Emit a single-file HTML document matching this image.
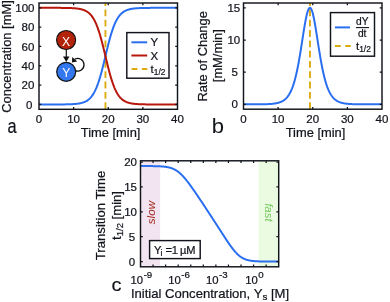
<!DOCTYPE html>
<html><head><meta charset="utf-8"><style>
html,body{margin:0;padding:0;background:#fff;}
body{width:390px;height:302px;overflow:hidden;}
svg{display:block;will-change:transform;}
svg text{font-family:"Liberation Sans", sans-serif;fill:#11141b;stroke:#11141b;stroke-width:0.22px;}
</style></head><body>
<svg width="390" height="302" viewBox="0 0 390 302">
<clipPath id="ca"><rect x="39.0" y="3.0" width="138.5" height="106.3"/></clipPath>
<g clip-path="url(#ca)">
<path d="M105.44 -0.8 V109.3" stroke="#dcab0e" stroke-width="1.9" stroke-dasharray="6.8 3.5"/>
<path d="M39.00 104.47 L39.35 104.47 L39.69 104.47 L40.04 104.47 L40.38 104.47 L40.73 104.47 L41.08 104.47 L41.42 104.47 L41.77 104.47 L42.12 104.47 L42.46 104.47 L42.81 104.47 L43.16 104.47 L43.50 104.47 L43.85 104.47 L44.19 104.47 L44.54 104.47 L44.89 104.47 L45.23 104.47 L45.58 104.47 L45.92 104.46 L46.27 104.46 L46.62 104.46 L46.96 104.46 L47.31 104.46 L47.66 104.46 L48.00 104.46 L48.35 104.46 L48.70 104.46 L49.04 104.46 L49.39 104.46 L49.73 104.46 L50.08 104.46 L50.43 104.46 L50.77 104.46 L51.12 104.46 L51.47 104.46 L51.81 104.46 L52.16 104.46 L52.50 104.46 L52.85 104.46 L53.20 104.46 L53.54 104.46 L53.89 104.46 L54.23 104.45 L54.58 104.45 L54.93 104.45 L55.27 104.45 L55.62 104.45 L55.97 104.45 L56.31 104.45 L56.66 104.45 L57.01 104.45 L57.35 104.44 L57.70 104.44 L58.04 104.44 L58.39 104.44 L58.74 104.44 L59.08 104.44 L59.43 104.43 L59.77 104.43 L60.12 104.43 L60.47 104.43 L60.81 104.43 L61.16 104.42 L61.51 104.42 L61.85 104.42 L62.20 104.41 L62.55 104.41 L62.89 104.41 L63.24 104.40 L63.58 104.40 L63.93 104.40 L64.28 104.39 L64.62 104.39 L64.97 104.38 L65.31 104.38 L65.66 104.37 L66.01 104.36 L66.35 104.36 L66.70 104.35 L67.05 104.34 L67.39 104.34 L67.74 104.33 L68.09 104.32 L68.43 104.31 L68.78 104.30 L69.12 104.29 L69.47 104.28 L69.82 104.27 L70.16 104.25 L70.51 104.24 L70.86 104.23 L71.20 104.21 L71.55 104.20 L71.89 104.18 L72.24 104.16 L72.59 104.14 L72.93 104.12 L73.28 104.10 L73.62 104.08 L73.97 104.06 L74.32 104.03 L74.66 104.00 L75.01 103.98 L75.36 103.94 L75.70 103.91 L76.05 103.88 L76.40 103.84 L76.74 103.80 L77.09 103.76 L77.43 103.72 L77.78 103.67 L78.13 103.63 L78.47 103.57 L78.82 103.52 L79.17 103.46 L79.51 103.40 L79.86 103.33 L80.20 103.26 L80.55 103.19 L80.90 103.11 L81.24 103.03 L81.59 102.94 L81.94 102.85 L82.28 102.75 L82.63 102.65 L82.97 102.54 L83.32 102.42 L83.67 102.30 L84.01 102.17 L84.36 102.03 L84.70 101.88 L85.05 101.72 L85.40 101.56 L85.74 101.39 L86.09 101.20 L86.44 101.01 L86.78 100.80 L87.13 100.58 L87.47 100.35 L87.82 100.11 L88.17 99.85 L88.51 99.58 L88.86 99.30 L89.21 99.00 L89.55 98.68 L89.90 98.34 L90.25 97.99 L90.59 97.62 L90.94 97.22 L91.28 96.81 L91.63 96.38 L91.98 95.92 L92.32 95.44 L92.67 94.94 L93.02 94.41 L93.36 93.86 L93.71 93.28 L94.05 92.67 L94.40 92.03 L94.75 91.37 L95.09 90.68 L95.44 89.95 L95.78 89.19 L96.13 88.41 L96.48 87.59 L96.82 86.74 L97.17 85.85 L97.52 84.93 L97.86 83.98 L98.21 82.99 L98.55 81.98 L98.90 80.92 L99.25 79.84 L99.59 78.72 L99.94 77.57 L100.29 76.39 L100.63 75.18 L100.98 73.94 L101.33 72.68 L101.67 71.38 L102.02 70.07 L102.36 68.73 L102.71 67.36 L103.06 65.98 L103.40 64.59 L103.75 63.17 L104.09 61.75 L104.44 60.31 L104.79 58.87 L105.13 57.43 L105.48 55.98 L105.83 54.53 L106.17 53.08 L106.52 51.64 L106.87 50.21 L107.21 48.79 L107.56 47.38 L107.90 45.98 L108.25 44.61 L108.60 43.25 L108.94 41.91 L109.29 40.60 L109.64 39.32 L109.98 38.06 L110.33 36.82 L110.67 35.62 L111.02 34.45 L111.37 33.31 L111.71 32.20 L112.06 31.12 L112.41 30.08 L112.75 29.07 L113.10 28.09 L113.44 27.14 L113.79 26.23 L114.14 25.36 L114.48 24.51 L114.83 23.70 L115.17 22.92 L115.52 22.17 L115.87 21.45 L116.21 20.77 L116.56 20.11 L116.91 19.48 L117.25 18.88 L117.60 18.31 L117.95 17.76 L118.29 17.24 L118.64 16.74 L118.98 16.27 L119.33 15.82 L119.68 15.39 L120.02 14.98 L120.37 14.59 L120.72 14.22 L121.06 13.88 L121.41 13.54 L121.75 13.23 L122.10 12.93 L122.45 12.65 L122.79 12.38 L123.14 12.13 L123.48 11.89 L123.83 11.66 L124.18 11.45 L124.52 11.24 L124.87 11.05 L125.22 10.87 L125.56 10.70 L125.91 10.54 L126.26 10.38 L126.60 10.24 L126.95 10.10 L127.29 9.97 L127.64 9.85 L127.99 9.73 L128.33 9.63 L128.68 9.52 L129.03 9.43 L129.37 9.33 L129.72 9.25 L130.06 9.17 L130.41 9.09 L130.76 9.02 L131.10 8.95 L131.45 8.89 L131.80 8.82 L132.14 8.77 L132.49 8.71 L132.83 8.66 L133.18 8.61 L133.53 8.57 L133.87 8.53 L134.22 8.49 L134.56 8.45 L134.91 8.41 L135.26 8.38 L135.60 8.35 L135.95 8.32 L136.30 8.29 L136.64 8.26 L136.99 8.24 L137.34 8.21 L137.68 8.19 L138.03 8.17 L138.37 8.15 L138.72 8.13 L139.07 8.11 L139.41 8.10 L139.76 8.08 L140.11 8.07 L140.45 8.05 L140.80 8.04 L141.14 8.03 L141.49 8.02 L141.84 8.01 L142.18 8.00 L142.53 7.99 L142.88 7.98 L143.22 7.97 L143.57 7.96 L143.91 7.95 L144.26 7.95 L144.61 7.94 L144.95 7.93 L145.30 7.93 L145.65 7.92 L145.99 7.92 L146.34 7.91 L146.68 7.91 L147.03 7.90 L147.38 7.90 L147.72 7.89 L148.07 7.89 L148.42 7.89 L148.76 7.88 L149.11 7.88 L149.45 7.88 L149.80 7.88 L150.15 7.87 L150.49 7.87 L150.84 7.87 L151.19 7.87 L151.53 7.86 L151.88 7.86 L152.22 7.86 L152.57 7.86 L152.92 7.86 L153.26 7.86 L153.61 7.85 L153.96 7.85 L154.30 7.85 L154.65 7.85 L154.99 7.85 L155.34 7.85 L155.69 7.85 L156.03 7.85 L156.38 7.85 L156.72 7.84 L157.07 7.84 L157.42 7.84 L157.76 7.84 L158.11 7.84 L158.46 7.84 L158.80 7.84 L159.15 7.84 L159.50 7.84 L159.84 7.84 L160.19 7.84 L160.53 7.84 L160.88 7.84 L161.23 7.84 L161.57 7.84 L161.92 7.84 L162.27 7.84 L162.61 7.84 L162.96 7.84 L163.30 7.84 L163.65 7.83 L164.00 7.83 L164.34 7.83 L164.69 7.83 L165.03 7.83 L165.38 7.83 L165.73 7.83 L166.07 7.83 L166.42 7.83 L166.77 7.83 L167.11 7.83 L167.46 7.83 L167.81 7.83 L168.15 7.83 L168.50 7.83 L168.84 7.83 L169.19 7.83 L169.54 7.83 L169.88 7.83 L170.23 7.83 L170.57 7.83 L170.92 7.83 L171.27 7.83 L171.61 7.83 L171.96 7.83 L172.31 7.83 L172.65 7.83 L173.00 7.83 L173.34 7.83 L173.69 7.83 L174.04 7.83 L174.38 7.83 L174.73 7.83 L175.08 7.83 L175.42 7.83 L175.77 7.83 L176.12 7.83 L176.46 7.83 L176.81 7.83 L177.15 7.83 L177.50 7.83" fill="none" stroke="#2a6ff0" stroke-width="2.0" stroke-linejoin="round" stroke-linecap="butt" />
<path d="M39.00 7.83 L39.35 7.83 L39.69 7.83 L40.04 7.83 L40.38 7.83 L40.73 7.83 L41.08 7.83 L41.42 7.83 L41.77 7.83 L42.12 7.83 L42.46 7.83 L42.81 7.83 L43.16 7.83 L43.50 7.83 L43.85 7.83 L44.19 7.83 L44.54 7.83 L44.89 7.83 L45.23 7.83 L45.58 7.83 L45.92 7.83 L46.27 7.83 L46.62 7.83 L46.96 7.83 L47.31 7.83 L47.66 7.84 L48.00 7.84 L48.35 7.84 L48.70 7.84 L49.04 7.84 L49.39 7.84 L49.73 7.84 L50.08 7.84 L50.43 7.84 L50.77 7.84 L51.12 7.84 L51.47 7.84 L51.81 7.84 L52.16 7.84 L52.50 7.84 L52.85 7.84 L53.20 7.84 L53.54 7.84 L53.89 7.84 L54.23 7.84 L54.58 7.85 L54.93 7.85 L55.27 7.85 L55.62 7.85 L55.97 7.85 L56.31 7.85 L56.66 7.85 L57.01 7.85 L57.35 7.85 L57.70 7.86 L58.04 7.86 L58.39 7.86 L58.74 7.86 L59.08 7.86 L59.43 7.86 L59.77 7.87 L60.12 7.87 L60.47 7.87 L60.81 7.87 L61.16 7.88 L61.51 7.88 L61.85 7.88 L62.20 7.88 L62.55 7.89 L62.89 7.89 L63.24 7.90 L63.58 7.90 L63.93 7.90 L64.28 7.91 L64.62 7.91 L64.97 7.92 L65.31 7.92 L65.66 7.93 L66.01 7.93 L66.35 7.94 L66.70 7.95 L67.05 7.96 L67.39 7.96 L67.74 7.97 L68.09 7.98 L68.43 7.99 L68.78 8.00 L69.12 8.01 L69.47 8.02 L69.82 8.03 L70.16 8.04 L70.51 8.06 L70.86 8.07 L71.20 8.09 L71.55 8.10 L71.89 8.12 L72.24 8.14 L72.59 8.16 L72.93 8.18 L73.28 8.20 L73.62 8.22 L73.97 8.24 L74.32 8.27 L74.66 8.30 L75.01 8.32 L75.36 8.35 L75.70 8.39 L76.05 8.42 L76.40 8.46 L76.74 8.50 L77.09 8.54 L77.43 8.58 L77.78 8.63 L78.13 8.67 L78.47 8.73 L78.82 8.78 L79.17 8.84 L79.51 8.90 L79.86 8.97 L80.20 9.03 L80.55 9.11 L80.90 9.19 L81.24 9.27 L81.59 9.36 L81.94 9.45 L82.28 9.55 L82.63 9.65 L82.97 9.76 L83.32 9.88 L83.67 10.00 L84.01 10.13 L84.36 10.27 L84.70 10.42 L85.05 10.57 L85.40 10.74 L85.74 10.91 L86.09 11.10 L86.44 11.29 L86.78 11.50 L87.13 11.72 L87.47 11.95 L87.82 12.19 L88.17 12.45 L88.51 12.72 L88.86 13.00 L89.21 13.30 L89.55 13.62 L89.90 13.96 L90.25 14.31 L90.59 14.68 L90.94 15.08 L91.28 15.49 L91.63 15.92 L91.98 16.38 L92.32 16.86 L92.67 17.36 L93.02 17.89 L93.36 18.44 L93.71 19.02 L94.05 19.63 L94.40 20.26 L94.75 20.93 L95.09 21.62 L95.44 22.35 L95.78 23.10 L96.13 23.89 L96.48 24.71 L96.82 25.56 L97.17 26.45 L97.52 27.37 L97.86 28.32 L98.21 29.30 L98.55 30.32 L98.90 31.38 L99.25 32.46 L99.59 33.58 L99.94 34.73 L100.29 35.91 L100.63 37.12 L100.98 38.36 L101.33 39.62 L101.67 40.92 L102.02 42.23 L102.36 43.57 L102.71 44.93 L103.06 46.32 L103.40 47.71 L103.75 49.13 L104.09 50.55 L104.44 51.98 L104.79 53.43 L105.13 54.87 L105.48 56.32 L105.83 57.77 L106.17 59.22 L106.52 60.66 L106.87 62.09 L107.21 63.51 L107.56 64.92 L107.90 66.32 L108.25 67.69 L108.60 69.05 L108.94 70.38 L109.29 71.70 L109.64 72.98 L109.98 74.24 L110.33 75.47 L110.67 76.68 L111.02 77.85 L111.37 78.99 L111.71 80.10 L112.06 81.18 L112.41 82.22 L112.75 83.23 L113.10 84.21 L113.44 85.15 L113.79 86.07 L114.14 86.94 L114.48 87.79 L114.83 88.60 L115.17 89.38 L115.52 90.13 L115.87 90.84 L116.21 91.53 L116.56 92.19 L116.91 92.82 L117.25 93.42 L117.60 93.99 L117.95 94.54 L118.29 95.06 L118.64 95.56 L118.98 96.03 L119.33 96.48 L119.68 96.91 L120.02 97.32 L120.37 97.71 L120.72 98.07 L121.06 98.42 L121.41 98.75 L121.75 99.07 L122.10 99.37 L122.45 99.65 L122.79 99.92 L123.14 100.17 L123.48 100.41 L123.83 100.64 L124.18 100.85 L124.52 101.05 L124.87 101.25 L125.22 101.43 L125.56 101.60 L125.91 101.76 L126.26 101.92 L126.60 102.06 L126.95 102.20 L127.29 102.33 L127.64 102.45 L127.99 102.56 L128.33 102.67 L128.68 102.78 L129.03 102.87 L129.37 102.96 L129.72 103.05 L130.06 103.13 L130.41 103.21 L130.76 103.28 L131.10 103.35 L131.45 103.41 L131.80 103.47 L132.14 103.53 L132.49 103.59 L132.83 103.64 L133.18 103.69 L133.53 103.73 L133.87 103.77 L134.22 103.81 L134.56 103.85 L134.91 103.89 L135.26 103.92 L135.60 103.95 L135.95 103.98 L136.30 104.01 L136.64 104.04 L136.99 104.06 L137.34 104.09 L137.68 104.11 L138.03 104.13 L138.37 104.15 L138.72 104.17 L139.07 104.18 L139.41 104.20 L139.76 104.22 L140.11 104.23 L140.45 104.24 L140.80 104.26 L141.14 104.27 L141.49 104.28 L141.84 104.29 L142.18 104.30 L142.53 104.31 L142.88 104.32 L143.22 104.33 L143.57 104.34 L143.91 104.35 L144.26 104.35 L144.61 104.36 L144.95 104.37 L145.30 104.37 L145.65 104.38 L145.99 104.38 L146.34 104.39 L146.68 104.39 L147.03 104.40 L147.38 104.40 L147.72 104.40 L148.07 104.41 L148.42 104.41 L148.76 104.42 L149.11 104.42 L149.45 104.42 L149.80 104.42 L150.15 104.43 L150.49 104.43 L150.84 104.43 L151.19 104.43 L151.53 104.44 L151.88 104.44 L152.22 104.44 L152.57 104.44 L152.92 104.44 L153.26 104.44 L153.61 104.45 L153.96 104.45 L154.30 104.45 L154.65 104.45 L154.99 104.45 L155.34 104.45 L155.69 104.45 L156.03 104.45 L156.38 104.45 L156.72 104.45 L157.07 104.46 L157.42 104.46 L157.76 104.46 L158.11 104.46 L158.46 104.46 L158.80 104.46 L159.15 104.46 L159.50 104.46 L159.84 104.46 L160.19 104.46 L160.53 104.46 L160.88 104.46 L161.23 104.46 L161.57 104.46 L161.92 104.46 L162.27 104.46 L162.61 104.46 L162.96 104.46 L163.30 104.46 L163.65 104.46 L164.00 104.46 L164.34 104.46 L164.69 104.46 L165.03 104.47 L165.38 104.47 L165.73 104.47 L166.07 104.47 L166.42 104.47 L166.77 104.47 L167.11 104.47 L167.46 104.47 L167.81 104.47 L168.15 104.47 L168.50 104.47 L168.84 104.47 L169.19 104.47 L169.54 104.47 L169.88 104.47 L170.23 104.47 L170.57 104.47 L170.92 104.47 L171.27 104.47 L171.61 104.47 L171.96 104.47 L172.31 104.47 L172.65 104.47 L173.00 104.47 L173.34 104.47 L173.69 104.47 L174.04 104.47 L174.38 104.47 L174.73 104.47 L175.08 104.47 L175.42 104.47 L175.77 104.47 L176.12 104.47 L176.46 104.47 L176.81 104.47 L177.15 104.47 L177.50 104.47" fill="none" stroke="#b8170c" stroke-width="2.0" stroke-linejoin="round" stroke-linecap="butt" />
</g>
<rect x="39.00" y="3.00" width="138.50" height="106.30" fill="none" stroke="#11141b" stroke-width="1.45"/>
<path d="M73.62 109.30 V107.00 M73.62 3.00 V5.30" stroke="#11141b" stroke-width="1.25"/>
<path d="M108.25 109.30 V107.00 M108.25 3.00 V5.30" stroke="#11141b" stroke-width="1.25"/>
<path d="M142.88 109.30 V107.00 M142.88 3.00 V5.30" stroke="#11141b" stroke-width="1.25"/>
<path d="M39.00 104.47 H41.30 M177.50 104.47 H175.20" stroke="#11141b" stroke-width="1.25"/>
<path d="M39.00 85.14 H41.30 M177.50 85.14 H175.20" stroke="#11141b" stroke-width="1.25"/>
<path d="M39.00 65.81 H41.30 M177.50 65.81 H175.20" stroke="#11141b" stroke-width="1.25"/>
<path d="M39.00 46.49 H41.30 M177.50 46.49 H175.20" stroke="#11141b" stroke-width="1.25"/>
<path d="M39.00 27.16 H41.30 M177.50 27.16 H175.20" stroke="#11141b" stroke-width="1.25"/>
<path d="M39.00 7.83 H41.30 M177.50 7.83 H175.20" stroke="#11141b" stroke-width="1.25"/>
<text x="39.00" y="122.60" font-size="11.5" text-anchor="middle" >0</text>
<text x="73.62" y="122.60" font-size="11.5" text-anchor="middle" >10</text>
<text x="108.25" y="122.60" font-size="11.5" text-anchor="middle" >20</text>
<text x="142.88" y="122.60" font-size="11.5" text-anchor="middle" >30</text>
<text x="177.50" y="122.60" font-size="11.5" text-anchor="middle" >40</text>
<text x="32.40" y="108.57" font-size="11.5" text-anchor="end" >0</text>
<text x="34.30" y="89.24" font-size="11.5" text-anchor="end" >20</text>
<text x="34.30" y="69.91" font-size="11.5" text-anchor="end" >40</text>
<text x="34.30" y="50.59" font-size="11.5" text-anchor="end" >60</text>
<text x="34.30" y="31.26" font-size="11.5" text-anchor="end" >80</text>
<text x="34.50" y="11.93" font-size="11.5" text-anchor="end" >100</text>
<text x="110.60" y="137.20" font-size="12.9" text-anchor="middle" >Time [min]</text>
<text transform="translate(10.8 56.5) rotate(-90)" font-size="12.9" text-anchor="middle">Concentration [mM]</text>
<text transform="translate(7.6 133) scale(0.82 1.04)" font-size="20" style="stroke:#1a1c22;stroke-width:0.2">a</text>
<path d="M75.27 70.7 A6.35 6.35 0 1 0 74.7 59.2" fill="none" stroke="#111" stroke-width="1.3"/>
<path d="M72.2 57.0 L77.2 61.4 L72.0 62.6 Z" fill="#111"/>
<path d="M66.3 49.5 V57" stroke="#111" stroke-width="1.2"/>
<path d="M63.0 56.6 L69.5 56.6 L66.25 62.0 Z" fill="#111"/>
<circle cx="66.1" cy="40.0" r="9.5" fill="#b3230a" stroke="#111" stroke-width="1.2"/>
<circle cx="66.2" cy="71.8" r="9.5" fill="#3378ef" stroke="#111" stroke-width="1.2"/>
<text x="66.10" y="45.60" font-size="12.2" text-anchor="middle" style="fill:#fff;stroke:none">X</text>
<text x="66.20" y="77.40" font-size="12.2" text-anchor="middle" style="fill:#fff;stroke:none">Y</text>
<rect x="126.8" y="32.6" width="42.2" height="45.6" fill="#fff" stroke="#11141b" stroke-width="1.45"/>
<path d="M131.4 42.3 H147.2" stroke="#2a6ff0" stroke-width="2"/>
<path d="M131.4 55.5 H147.2" stroke="#b8170c" stroke-width="2"/>
<path d="M131.6 69 H147.2" stroke="#dcab0e" stroke-width="2" stroke-dasharray="5.8 4.5"/>
<text x="150.60" y="46.00" font-size="11.5" text-anchor="start" >Y</text>
<text x="150.60" y="59.50" font-size="11.5" text-anchor="start" >X</text>
<text x="150.60" y="72.80" font-size="11.5" text-anchor="start" >t<tspan font-size="8.4" dy="2.4">1/2</tspan></text>
<clipPath id="cb"><rect x="243.5" y="3.0" width="138.5" height="106.2"/></clipPath>
<g clip-path="url(#cb)">
<path d="M309.94 -0.8 V109.2" stroke="#dcab0e" stroke-width="1.9" stroke-dasharray="6.8 3.5"/>
<path d="M243.50 104.37 L243.85 104.37 L244.19 104.37 L244.54 104.37 L244.88 104.37 L245.23 104.37 L245.58 104.37 L245.92 104.37 L246.27 104.37 L246.62 104.37 L246.96 104.37 L247.31 104.37 L247.66 104.36 L248.00 104.36 L248.35 104.36 L248.69 104.36 L249.04 104.36 L249.39 104.36 L249.73 104.36 L250.08 104.36 L250.43 104.36 L250.77 104.36 L251.12 104.36 L251.46 104.36 L251.81 104.36 L252.16 104.36 L252.50 104.35 L252.85 104.35 L253.19 104.35 L253.54 104.35 L253.89 104.35 L254.23 104.35 L254.58 104.35 L254.93 104.34 L255.27 104.34 L255.62 104.34 L255.97 104.34 L256.31 104.34 L256.66 104.33 L257.00 104.33 L257.35 104.33 L257.70 104.33 L258.04 104.32 L258.39 104.32 L258.74 104.32 L259.08 104.32 L259.43 104.31 L259.77 104.31 L260.12 104.30 L260.47 104.30 L260.81 104.30 L261.16 104.29 L261.50 104.29 L261.85 104.28 L262.20 104.27 L262.54 104.27 L262.89 104.26 L263.24 104.25 L263.58 104.25 L263.93 104.24 L264.27 104.23 L264.62 104.22 L264.97 104.21 L265.31 104.20 L265.66 104.19 L266.01 104.18 L266.35 104.17 L266.70 104.16 L267.05 104.14 L267.39 104.13 L267.74 104.12 L268.08 104.10 L268.43 104.08 L268.78 104.06 L269.12 104.05 L269.47 104.03 L269.81 104.00 L270.16 103.98 L270.51 103.96 L270.85 103.93 L271.20 103.90 L271.55 103.88 L271.89 103.85 L272.24 103.81 L272.58 103.78 L272.93 103.74 L273.28 103.70 L273.62 103.66 L273.97 103.62 L274.32 103.57 L274.66 103.52 L275.01 103.47 L275.36 103.41 L275.70 103.35 L276.05 103.29 L276.39 103.23 L276.74 103.15 L277.09 103.08 L277.43 103.00 L277.78 102.92 L278.12 102.83 L278.47 102.73 L278.82 102.63 L279.16 102.53 L279.51 102.41 L279.86 102.29 L280.20 102.17 L280.55 102.03 L280.89 101.89 L281.24 101.74 L281.59 101.57 L281.93 101.40 L282.28 101.22 L282.63 101.03 L282.97 100.83 L283.32 100.62 L283.67 100.39 L284.01 100.15 L284.36 99.89 L284.70 99.62 L285.05 99.34 L285.40 99.03 L285.74 98.71 L286.09 98.37 L286.44 98.01 L286.78 97.64 L287.13 97.23 L287.47 96.81 L287.82 96.36 L288.17 95.89 L288.51 95.39 L288.86 94.86 L289.20 94.31 L289.55 93.72 L289.90 93.10 L290.24 92.45 L290.59 91.76 L290.94 91.04 L291.28 90.27 L291.63 89.47 L291.98 88.63 L292.32 87.74 L292.67 86.81 L293.01 85.84 L293.36 84.81 L293.71 83.74 L294.05 82.62 L294.40 81.44 L294.75 80.21 L295.09 78.93 L295.44 77.59 L295.78 76.20 L296.13 74.75 L296.48 73.24 L296.82 71.67 L297.17 70.05 L297.51 68.37 L297.86 66.63 L298.21 64.83 L298.55 62.98 L298.90 61.08 L299.25 59.12 L299.59 57.12 L299.94 55.07 L300.29 52.98 L300.63 50.86 L300.98 48.70 L301.32 46.51 L301.67 44.30 L302.02 42.08 L302.36 39.85 L302.71 37.63 L303.06 35.41 L303.40 33.21 L303.75 31.03 L304.09 28.89 L304.44 26.80 L304.79 24.77 L305.13 22.81 L305.48 20.92 L305.82 19.12 L306.17 17.42 L306.52 15.83 L306.86 14.37 L307.21 13.03 L307.56 11.82 L307.90 10.77 L308.25 9.87 L308.60 9.12 L308.94 8.54 L309.29 8.13 L309.63 7.89 L309.98 7.83 L310.33 7.93 L310.67 8.21 L311.02 8.67 L311.37 9.29 L311.71 10.07 L312.06 11.01 L312.40 12.10 L312.75 13.34 L313.10 14.71 L313.44 16.20 L313.79 17.82 L314.13 19.54 L314.48 21.36 L314.83 23.27 L315.17 25.25 L315.52 27.30 L315.87 29.40 L316.21 31.55 L316.56 33.73 L316.90 35.94 L317.25 38.16 L317.60 40.39 L317.94 42.62 L318.29 44.83 L318.64 47.04 L318.98 49.22 L319.33 51.37 L319.68 53.49 L320.02 55.57 L320.37 57.60 L320.71 59.60 L321.06 61.54 L321.41 63.43 L321.75 65.27 L322.10 67.05 L322.44 68.77 L322.79 70.44 L323.14 72.05 L323.48 73.61 L323.83 75.10 L324.18 76.54 L324.52 77.92 L324.87 79.24 L325.22 80.51 L325.56 81.73 L325.91 82.89 L326.25 84.00 L326.60 85.06 L326.95 86.07 L327.29 87.04 L327.64 87.96 L327.99 88.83 L328.33 89.67 L328.68 90.46 L329.02 91.21 L329.37 91.93 L329.72 92.61 L330.06 93.25 L330.41 93.86 L330.75 94.44 L331.10 94.99 L331.45 95.51 L331.79 96.01 L332.14 96.47 L332.49 96.91 L332.83 97.33 L333.18 97.73 L333.52 98.10 L333.87 98.46 L334.22 98.79 L334.56 99.11 L334.91 99.41 L335.26 99.69 L335.60 99.95 L335.95 100.21 L336.30 100.44 L336.64 100.67 L336.99 100.88 L337.33 101.08 L337.68 101.27 L338.03 101.45 L338.37 101.61 L338.72 101.77 L339.06 101.92 L339.41 102.06 L339.76 102.20 L340.10 102.32 L340.45 102.44 L340.80 102.55 L341.14 102.66 L341.49 102.76 L341.84 102.85 L342.18 102.94 L342.53 103.02 L342.87 103.10 L343.22 103.17 L343.57 103.24 L343.91 103.31 L344.26 103.37 L344.61 103.43 L344.95 103.48 L345.30 103.53 L345.64 103.58 L345.99 103.63 L346.34 103.67 L346.68 103.71 L347.03 103.75 L347.38 103.79 L347.72 103.82 L348.07 103.85 L348.41 103.88 L348.76 103.91 L349.11 103.94 L349.45 103.96 L349.80 103.99 L350.14 104.01 L350.49 104.03 L350.84 104.05 L351.18 104.07 L351.53 104.09 L351.88 104.10 L352.22 104.12 L352.57 104.13 L352.92 104.15 L353.26 104.16 L353.61 104.17 L353.95 104.18 L354.30 104.20 L354.65 104.21 L354.99 104.22 L355.34 104.22 L355.69 104.23 L356.03 104.24 L356.38 104.25 L356.72 104.26 L357.07 104.26 L357.42 104.27 L357.76 104.28 L358.11 104.28 L358.46 104.29 L358.80 104.29 L359.15 104.30 L359.49 104.30 L359.84 104.30 L360.19 104.31 L360.53 104.31 L360.88 104.32 L361.23 104.32 L361.57 104.32 L361.92 104.33 L362.26 104.33 L362.61 104.33 L362.96 104.33 L363.30 104.34 L363.65 104.34 L364.00 104.34 L364.34 104.34 L364.69 104.34 L365.03 104.35 L365.38 104.35 L365.73 104.35 L366.07 104.35 L366.42 104.35 L366.76 104.35 L367.11 104.35 L367.46 104.35 L367.80 104.36 L368.15 104.36 L368.50 104.36 L368.84 104.36 L369.19 104.36 L369.53 104.36 L369.88 104.36 L370.23 104.36 L370.57 104.36 L370.92 104.36 L371.27 104.36 L371.61 104.36 L371.96 104.36 L372.31 104.36 L372.65 104.37 L373.00 104.37 L373.34 104.37 L373.69 104.37 L374.04 104.37 L374.38 104.37 L374.73 104.37 L375.07 104.37 L375.42 104.37 L375.77 104.37 L376.11 104.37 L376.46 104.37 L376.81 104.37 L377.15 104.37 L377.50 104.37 L377.85 104.37 L378.19 104.37 L378.54 104.37 L378.88 104.37 L379.23 104.37 L379.58 104.37 L379.92 104.37 L380.27 104.37 L380.62 104.37 L380.96 104.37 L381.31 104.37 L381.65 104.37 L382.00 104.37" fill="none" stroke="#2a6ff0" stroke-width="2.0" stroke-linejoin="round" stroke-linecap="butt" />
</g>
<rect x="243.50" y="3.00" width="138.50" height="106.20" fill="none" stroke="#11141b" stroke-width="1.45"/>
<path d="M278.12 109.20 V106.90 M278.12 3.00 V5.30" stroke="#11141b" stroke-width="1.25"/>
<path d="M312.75 109.20 V106.90 M312.75 3.00 V5.30" stroke="#11141b" stroke-width="1.25"/>
<path d="M347.38 109.20 V106.90 M347.38 3.00 V5.30" stroke="#11141b" stroke-width="1.25"/>
<path d="M243.50 104.37 H245.80 M382.00 104.37 H379.70" stroke="#11141b" stroke-width="1.25"/>
<path d="M243.50 72.19 H245.80 M382.00 72.19 H379.70" stroke="#11141b" stroke-width="1.25"/>
<path d="M243.50 40.01 H245.80 M382.00 40.01 H379.70" stroke="#11141b" stroke-width="1.25"/>
<path d="M243.50 7.83 H245.80 M382.00 7.83 H379.70" stroke="#11141b" stroke-width="1.25"/>
<text x="243.50" y="122.60" font-size="11.5" text-anchor="middle" >0</text>
<text x="278.12" y="122.60" font-size="11.5" text-anchor="middle" >10</text>
<text x="312.75" y="122.60" font-size="11.5" text-anchor="middle" >20</text>
<text x="347.38" y="122.60" font-size="11.5" text-anchor="middle" >30</text>
<text x="382.00" y="122.60" font-size="11.5" text-anchor="middle" >40</text>
<text x="238.00" y="108.07" font-size="11.5" text-anchor="end" >0</text>
<text x="238.00" y="75.89" font-size="11.5" text-anchor="end" >5</text>
<text x="240.20" y="43.71" font-size="11.5" text-anchor="end" >10</text>
<text x="240.20" y="11.53" font-size="11.5" text-anchor="end" >15</text>
<text x="315.50" y="137.40" font-size="12.9" text-anchor="middle" >Time [min]</text>
<text transform="translate(207.3 56.3) rotate(-90)" font-size="12.9" text-anchor="middle">Rate of Change</text>
<text transform="translate(221.7 55.7) rotate(-90)" font-size="12.9" text-anchor="middle">[mM/min]</text>
<text transform="translate(211.8 133) scale(1.1 1.0)" font-size="20" style="stroke:none">b</text>
<rect x="330.5" y="12.6" width="44" height="43.6" fill="#fff" stroke="#11141b" stroke-width="1.45"/>
<path d="M335 27.4 H350" stroke="#2a6ff0" stroke-width="2"/>
<path d="M335 46 H350.8" stroke="#dcab0e" stroke-width="2" stroke-dasharray="5.8 4.5"/>
<text x="362.30" y="25.30" font-size="10.2" text-anchor="middle" >dY</text>
<path d="M355.9 27.6 H369" stroke="#11141b" stroke-width="1.1"/>
<text x="362.20" y="36.60" font-size="10.2" text-anchor="middle" >dt</text>
<text x="356.00" y="49.90" font-size="11.5" text-anchor="start" >t<tspan font-size="8.4" dy="2.4">1/2</tspan></text>
<rect x="140.5" y="160.8" width="19.60" height="106.00" fill="#f2e4f1"/>
<rect x="258.47" y="160.8" width="20.23" height="106.00" fill="#eafbe1"/>
<clipPath id="cc"><rect x="140.5" y="160.8" width="138.2" height="106.0"/></clipPath>
<g clip-path="url(#cc)">
<path d="M140.50 166.05 L140.75 166.05 L141.00 166.05 L141.25 166.05 L141.51 166.05 L141.76 166.05 L142.01 166.05 L142.26 166.05 L142.51 166.06 L142.76 166.06 L143.01 166.06 L143.26 166.06 L143.52 166.06 L143.77 166.06 L144.02 166.06 L144.27 166.06 L144.52 166.06 L144.77 166.06 L145.02 166.06 L145.27 166.06 L145.53 166.06 L145.78 166.07 L146.03 166.07 L146.28 166.07 L146.53 166.07 L146.78 166.07 L147.03 166.07 L147.28 166.07 L147.54 166.07 L147.79 166.08 L148.04 166.08 L148.29 166.08 L148.54 166.08 L148.79 166.08 L149.04 166.08 L149.29 166.09 L149.55 166.09 L149.80 166.09 L150.05 166.09 L150.30 166.09 L150.55 166.10 L150.80 166.10 L151.05 166.10 L151.30 166.10 L151.56 166.11 L151.81 166.11 L152.06 166.11 L152.31 166.12 L152.56 166.12 L152.81 166.12 L153.06 166.13 L153.31 166.13 L153.57 166.13 L153.82 166.14 L154.07 166.14 L154.32 166.15 L154.57 166.15 L154.82 166.16 L155.07 166.16 L155.33 166.17 L155.58 166.17 L155.83 166.18 L156.08 166.19 L156.33 166.19 L156.58 166.20 L156.83 166.21 L157.08 166.22 L157.34 166.22 L157.59 166.23 L157.84 166.24 L158.09 166.25 L158.34 166.26 L158.59 166.27 L158.84 166.28 L159.09 166.29 L159.35 166.30 L159.60 166.31 L159.85 166.33 L160.10 166.34 L160.35 166.35 L160.60 166.37 L160.85 166.38 L161.10 166.40 L161.36 166.41 L161.61 166.43 L161.86 166.45 L162.11 166.47 L162.36 166.49 L162.61 166.51 L162.86 166.53 L163.11 166.55 L163.37 166.57 L163.62 166.60 L163.87 166.62 L164.12 166.65 L164.37 166.68 L164.62 166.71 L164.87 166.74 L165.12 166.77 L165.38 166.80 L165.63 166.83 L165.88 166.87 L166.13 166.91 L166.38 166.95 L166.63 166.99 L166.88 167.03 L167.13 167.07 L167.39 167.12 L167.64 167.16 L167.89 167.21 L168.14 167.26 L168.39 167.32 L168.64 167.37 L168.89 167.43 L169.15 167.49 L169.40 167.55 L169.65 167.62 L169.90 167.69 L170.15 167.76 L170.40 167.83 L170.65 167.90 L170.90 167.98 L171.16 168.06 L171.41 168.15 L171.66 168.23 L171.91 168.32 L172.16 168.42 L172.41 168.51 L172.66 168.61 L172.91 168.72 L173.17 168.83 L173.42 168.94 L173.67 169.05 L173.92 169.17 L174.17 169.29 L174.42 169.42 L174.67 169.55 L174.92 169.68 L175.18 169.82 L175.43 169.96 L175.68 170.10 L175.93 170.25 L176.18 170.41 L176.43 170.57 L176.68 170.73 L176.93 170.90 L177.19 171.07 L177.44 171.24 L177.69 171.42 L177.94 171.61 L178.19 171.80 L178.44 171.99 L178.69 172.19 L178.94 172.39 L179.20 172.60 L179.45 172.81 L179.70 173.02 L179.95 173.24 L180.20 173.47 L180.45 173.69 L180.70 173.93 L180.95 174.16 L181.21 174.40 L181.46 174.65 L181.71 174.90 L181.96 175.15 L182.21 175.41 L182.46 175.67 L182.71 175.93 L182.97 176.20 L183.22 176.47 L183.47 176.75 L183.72 177.03 L183.97 177.31 L184.22 177.59 L184.47 177.88 L184.72 178.17 L184.98 178.47 L185.23 178.77 L185.48 179.07 L185.73 179.37 L185.98 179.68 L186.23 179.99 L186.48 180.30 L186.73 180.62 L186.99 180.93 L187.24 181.25 L187.49 181.58 L187.74 181.90 L187.99 182.23 L188.24 182.56 L188.49 182.89 L188.74 183.22 L189.00 183.56 L189.25 183.89 L189.50 184.23 L189.75 184.57 L190.00 184.92 L190.25 185.26 L190.50 185.60 L190.75 185.95 L191.01 186.30 L191.26 186.65 L191.51 187.00 L191.76 187.35 L192.01 187.71 L192.26 188.06 L192.51 188.42 L192.76 188.78 L193.02 189.13 L193.27 189.49 L193.52 189.85 L193.77 190.22 L194.02 190.58 L194.27 190.94 L194.52 191.30 L194.77 191.67 L195.03 192.04 L195.28 192.40 L195.53 192.77 L195.78 193.14 L196.03 193.50 L196.28 193.87 L196.53 194.24 L196.79 194.61 L197.04 194.98 L197.29 195.36 L197.54 195.73 L197.79 196.10 L198.04 196.47 L198.29 196.85 L198.54 197.22 L198.80 197.59 L199.05 197.97 L199.30 198.34 L199.55 198.72 L199.80 199.10 L200.05 199.47 L200.30 199.85 L200.55 200.23 L200.81 200.60 L201.06 200.98 L201.31 201.36 L201.56 201.74 L201.81 202.11 L202.06 202.49 L202.31 202.87 L202.56 203.25 L202.82 203.63 L203.07 204.01 L203.32 204.39 L203.57 204.77 L203.82 205.15 L204.07 205.53 L204.32 205.91 L204.57 206.29 L204.83 206.67 L205.08 207.05 L205.33 207.44 L205.58 207.82 L205.83 208.20 L206.08 208.58 L206.33 208.96 L206.58 209.35 L206.84 209.73 L207.09 210.11 L207.34 210.49 L207.59 210.88 L207.84 211.26 L208.09 211.64 L208.34 212.03 L208.59 212.41 L208.85 212.79 L209.10 213.18 L209.35 213.56 L209.60 213.95 L209.85 214.33 L210.10 214.72 L210.35 215.10 L210.61 215.48 L210.86 215.87 L211.11 216.26 L211.36 216.64 L211.61 217.03 L211.86 217.41 L212.11 217.80 L212.36 218.18 L212.62 218.57 L212.87 218.96 L213.12 219.34 L213.37 219.73 L213.62 220.11 L213.87 220.50 L214.12 220.89 L214.37 221.28 L214.63 221.66 L214.88 222.05 L215.13 222.44 L215.38 222.83 L215.63 223.21 L215.88 223.60 L216.13 223.99 L216.38 224.38 L216.64 224.77 L216.89 225.15 L217.14 225.54 L217.39 225.93 L217.64 226.32 L217.89 226.71 L218.14 227.10 L218.39 227.49 L218.65 227.88 L218.90 228.26 L219.15 228.65 L219.40 229.04 L219.65 229.43 L219.90 229.82 L220.15 230.21 L220.40 230.60 L220.66 230.99 L220.91 231.38 L221.16 231.77 L221.41 232.16 L221.66 232.54 L221.91 232.93 L222.16 233.32 L222.41 233.71 L222.67 234.10 L222.92 234.48 L223.17 234.87 L223.42 235.26 L223.67 235.65 L223.92 236.03 L224.17 236.42 L224.43 236.80 L224.68 237.19 L224.93 237.57 L225.18 237.96 L225.43 238.34 L225.68 238.72 L225.93 239.10 L226.18 239.48 L226.44 239.86 L226.69 240.24 L226.94 240.62 L227.19 240.99 L227.44 241.37 L227.69 241.74 L227.94 242.11 L228.19 242.48 L228.45 242.85 L228.70 243.22 L228.95 243.58 L229.20 243.95 L229.45 244.31 L229.70 244.67 L229.95 245.03 L230.20 245.38 L230.46 245.73 L230.71 246.08 L230.96 246.43 L231.21 246.77 L231.46 247.12 L231.71 247.46 L231.96 247.79 L232.21 248.12 L232.47 248.45 L232.72 248.78 L232.97 249.10 L233.22 249.42 L233.47 249.74 L233.72 250.05 L233.97 250.35 L234.22 250.66 L234.48 250.96 L234.73 251.25 L234.98 251.54 L235.23 251.83 L235.48 252.11 L235.73 252.38 L235.98 252.66 L236.23 252.92 L236.49 253.18 L236.74 253.44 L236.99 253.69 L237.24 253.94 L237.49 254.18 L237.74 254.42 L237.99 254.65 L238.25 254.88 L238.50 255.10 L238.75 255.32 L239.00 255.53 L239.25 255.74 L239.50 255.94 L239.75 256.14 L240.00 256.33 L240.26 256.51 L240.51 256.69 L240.76 256.87 L241.01 257.04 L241.26 257.21 L241.51 257.37 L241.76 257.53 L242.01 257.68 L242.27 257.82 L242.52 257.97 L242.77 258.11 L243.02 258.24 L243.27 258.37 L243.52 258.49 L243.77 258.61 L244.02 258.73 L244.28 258.85 L244.53 258.95 L244.78 259.06 L245.03 259.16 L245.28 259.26 L245.53 259.35 L245.78 259.44 L246.03 259.53 L246.29 259.62 L246.54 259.70 L246.79 259.78 L247.04 259.85 L247.29 259.93 L247.54 259.99 L247.79 260.06 L248.04 260.13 L248.30 260.19 L248.55 260.25 L248.80 260.31 L249.05 260.36 L249.30 260.41 L249.55 260.46 L249.80 260.51 L250.05 260.56 L250.31 260.60 L250.56 260.65 L250.81 260.69 L251.06 260.73 L251.31 260.76 L251.56 260.80 L251.81 260.83 L252.07 260.87 L252.32 260.90 L252.57 260.93 L252.82 260.96 L253.07 260.99 L253.32 261.01 L253.57 261.04 L253.82 261.06 L254.08 261.09 L254.33 261.11 L254.58 261.13 L254.83 261.15 L255.08 261.17 L255.33 261.19 L255.58 261.21 L255.83 261.23 L256.09 261.24 L256.34 261.26 L256.59 261.27 L256.84 261.29 L257.09 261.30 L257.34 261.32 L257.59 261.33 L257.84 261.34 L258.10 261.35 L258.35 261.36 L258.60 261.37 L258.85 261.38 L259.10 261.39 L259.35 261.40 L259.60 261.41 L259.85 261.42 L260.11 261.43 L260.36 261.44 L260.61 261.44 L260.86 261.45 L261.11 261.46 L261.36 261.46 L261.61 261.47 L261.86 261.47 L262.12 261.48 L262.37 261.49 L262.62 261.49 L262.87 261.50 L263.12 261.50 L263.37 261.50 L263.62 261.51 L263.87 261.51 L264.13 261.52 L264.38 261.52 L264.63 261.52 L264.88 261.53 L265.13 261.53 L265.38 261.53 L265.63 261.54 L265.89 261.54 L266.14 261.54 L266.39 261.55 L266.64 261.55 L266.89 261.55 L267.14 261.55 L267.39 261.55 L267.64 261.56 L267.90 261.56 L268.15 261.56 L268.40 261.56 L268.65 261.56 L268.90 261.57 L269.15 261.57 L269.40 261.57 L269.65 261.57 L269.91 261.57 L270.16 261.57 L270.41 261.57 L270.66 261.57 L270.91 261.58 L271.16 261.58 L271.41 261.58 L271.66 261.58 L271.92 261.58 L272.17 261.58 L272.42 261.58 L272.67 261.58 L272.92 261.58 L273.17 261.58 L273.42 261.58 L273.67 261.59 L273.93 261.59 L274.18 261.59 L274.43 261.59 L274.68 261.59 L274.93 261.59 L275.18 261.59 L275.43 261.59 L275.68 261.59 L275.94 261.59 L276.19 261.59 L276.44 261.59 L276.69 261.59 L276.94 261.59 L277.19 261.59 L277.44 261.59 L277.69 261.59 L277.95 261.59 L278.20 261.59 L278.45 261.59 L278.70 261.59" fill="none" stroke="#2a6ff0" stroke-width="2.0" stroke-linejoin="round" stroke-linecap="butt" />
</g>
<text transform="translate(155.4 212.6) rotate(-90)" font-size="11.6" font-style="italic" text-anchor="middle" style="fill:#a0281c;stroke:none">slow</text>
<text transform="translate(264.6 212.4) rotate(90)" font-size="11.5" font-style="italic" text-anchor="middle" style="fill:#7ac960;stroke:none">fast</text>
<rect x="140.50" y="160.80" width="138.20" height="106.00" fill="none" stroke="#11141b" stroke-width="1.45"/>
<path d="M153.06 266.80 V264.50 M153.06 160.80 V163.10" stroke="#11141b" stroke-width="1.25"/>
<path d="M165.63 266.80 V264.50 M165.63 160.80 V163.10" stroke="#11141b" stroke-width="1.25"/>
<path d="M178.19 266.80 V264.50 M178.19 160.80 V163.10" stroke="#11141b" stroke-width="1.25"/>
<path d="M190.75 266.80 V264.50 M190.75 160.80 V163.10" stroke="#11141b" stroke-width="1.25"/>
<path d="M203.32 266.80 V264.50 M203.32 160.80 V163.10" stroke="#11141b" stroke-width="1.25"/>
<path d="M215.88 266.80 V264.50 M215.88 160.80 V163.10" stroke="#11141b" stroke-width="1.25"/>
<path d="M228.45 266.80 V264.50 M228.45 160.80 V163.10" stroke="#11141b" stroke-width="1.25"/>
<path d="M241.01 266.80 V264.50 M241.01 160.80 V163.10" stroke="#11141b" stroke-width="1.25"/>
<path d="M253.57 266.80 V264.50 M253.57 160.80 V163.10" stroke="#11141b" stroke-width="1.25"/>
<path d="M266.14 266.80 V264.50 M266.14 160.80 V163.10" stroke="#11141b" stroke-width="1.25"/>
<path d="M140.50 261.60 H142.80 M278.70 261.60 H276.40" stroke="#11141b" stroke-width="1.25"/>
<path d="M140.50 236.70 H142.80 M278.70 236.70 H276.40" stroke="#11141b" stroke-width="1.25"/>
<path d="M140.50 211.80 H142.80 M278.70 211.80 H276.40" stroke="#11141b" stroke-width="1.25"/>
<path d="M140.50 186.90 H142.80 M278.70 186.90 H276.40" stroke="#11141b" stroke-width="1.25"/>
<path d="M140.50 162.00 H142.80 M278.70 162.00 H276.40" stroke="#11141b" stroke-width="1.25"/>
<text x="141.40" y="283.8" font-size="11.3" text-anchor="middle">10<tspan font-size="9.7" dx="0.5" dy="-5.6">-9</tspan></text>
<text x="179.09" y="283.8" font-size="11.3" text-anchor="middle">10<tspan font-size="9.7" dx="0.5" dy="-5.6">-6</tspan></text>
<text x="216.78" y="283.8" font-size="11.3" text-anchor="middle">10<tspan font-size="9.7" dx="0.5" dy="-5.6">-3</tspan></text>
<text x="254.47" y="283.8" font-size="11.3" text-anchor="middle">10<tspan font-size="9.7" dx="0.5" dy="-5.6">0</tspan></text>
<text x="135.10" y="265.70" font-size="11.5" text-anchor="end" >0</text>
<text x="135.10" y="240.80" font-size="11.5" text-anchor="end" >5</text>
<text x="137.00" y="215.90" font-size="11.5" text-anchor="end" >10</text>
<text x="137.00" y="191.00" font-size="11.5" text-anchor="end" >15</text>
<text x="137.00" y="166.10" font-size="11.5" text-anchor="end" >20</text>
<text x="210" y="297.6" font-size="13.1" text-anchor="middle">Initial Concentration, Y<tspan font-size="9.8" dy="2.6">s</tspan><tspan dy="-2.6"> [M]</tspan></text>
<text transform="translate(105.4 215.5) rotate(-90)" font-size="13.2" text-anchor="middle">Transition Time</text>
<text transform="translate(120.5 215.5) rotate(-90)" font-size="13.1" text-anchor="middle">t<tspan font-size="9.6" dy="2.6">1/2</tspan><tspan dy="-2.6"> [min]</tspan></text>
<text transform="translate(111.6 291.4) scale(1.0 0.95)" font-size="20" style="stroke:#1a1c22;stroke-width:0.2">c</text>
<rect x="149.6" y="240.6" width="50.6" height="18" fill="#fff" stroke="#11141b" stroke-width="1.45"/>
<text y="253.6" font-size="11.1"><tspan x="154.0">Y</tspan><tspan x="160.5" font-size="8.4" dy="2.3">i</tspan><tspan x="165.4" dy="-2.3">=1</tspan><tspan x="179.9">&#181;M</tspan></text>
</svg>
</body></html>
